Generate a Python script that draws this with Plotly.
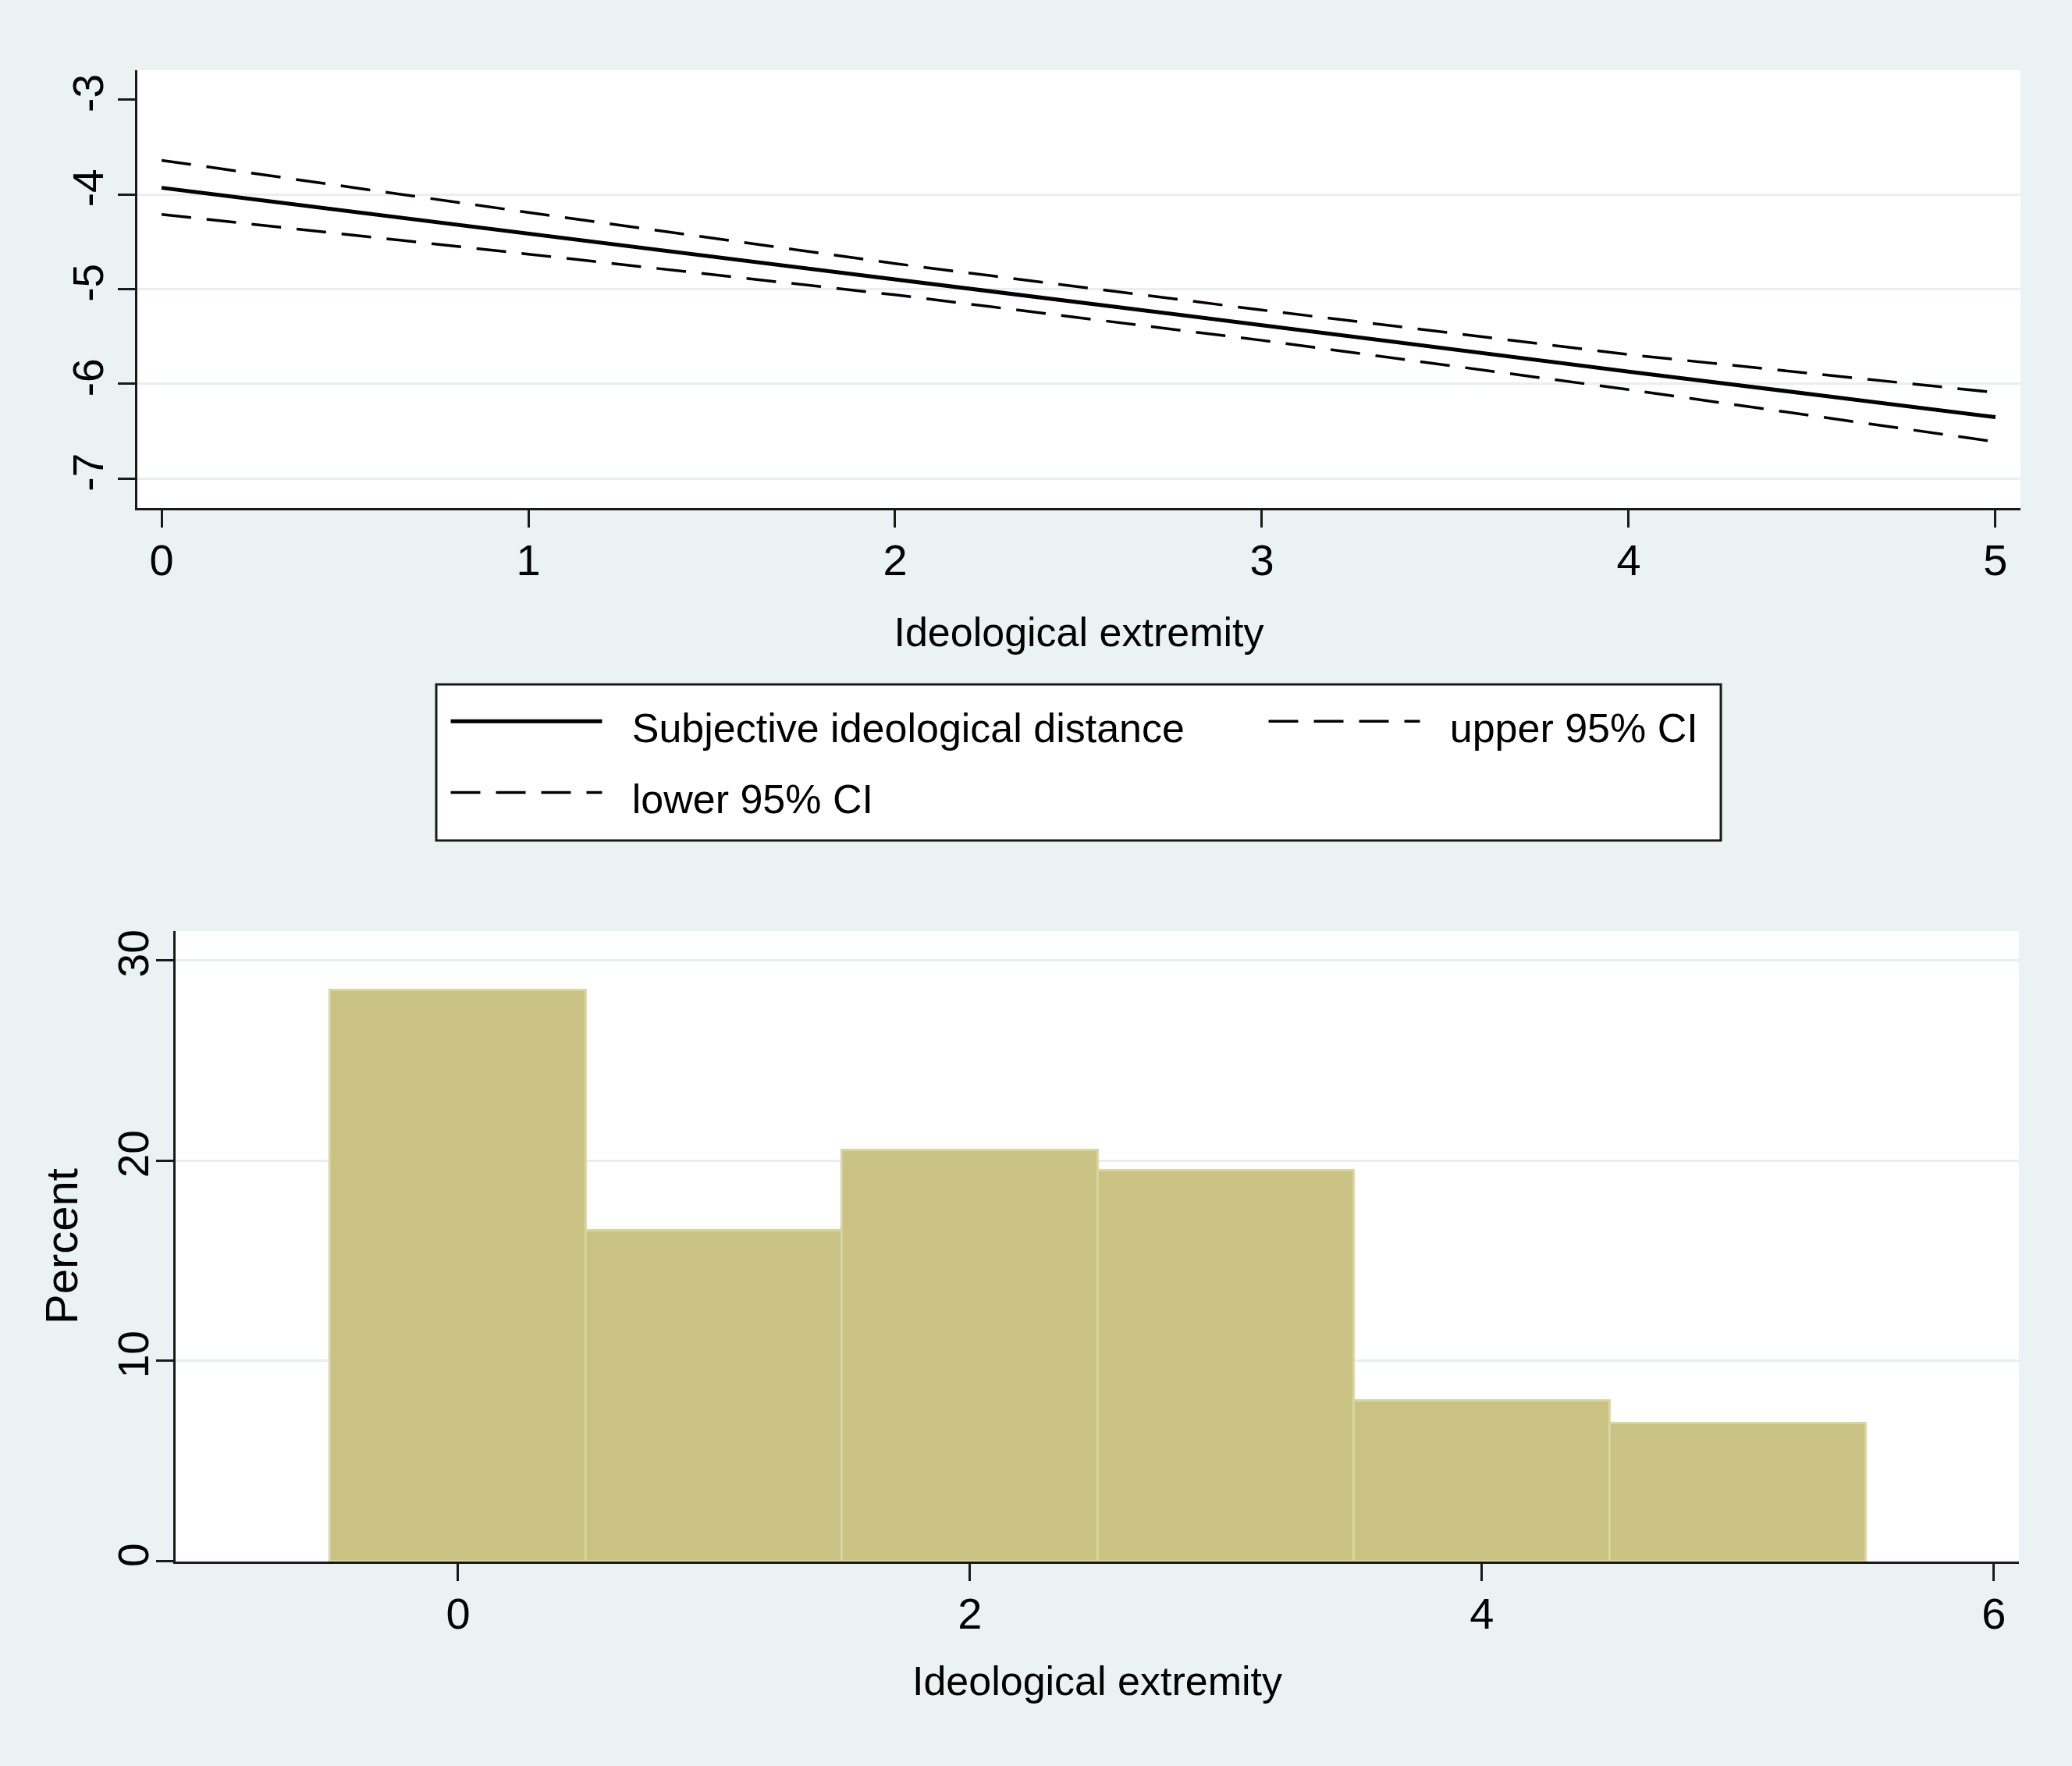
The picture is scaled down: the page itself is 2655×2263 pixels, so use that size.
import plotly.graph_objects as go

# ---- data ----
extremity = [0, 1, 2, 3, 4, 5]
subjective_distance = [-3.93, -4.41, -4.89, -5.38, -5.87, -6.35]
upper_ci = [-3.64, -4.19, -4.73, -5.22, -5.69, -6.09]
lower_ci = [-4.21, -4.63, -5.06, -5.54, -6.06, -6.61]

hist_bins = [0, 1, 2, 3, 4, 5]
hist_percent = [28.5, 16.5, 20.5, 19.5, 8.0, 6.9]

top_yticks = [-3, -4, -5, -6, -7]
top_xticks = [0, 1, 2, 3, 4, 5]
bot_yticks = [0, 10, 20, 30]
bot_xticks = [0, 2, 4, 6]

series_names = ["Subjective ideological distance", "upper 95% CI", "lower 95% CI"]

FONT = "Liberation Sans, Arial, sans-serif"
BG = "#EAF2F3"
GRID = "#E6EFF1"
DASH = "38px,20px"
W, H = 2655, 2263


def legend_label(s):
    return '<span style="font-size:52px">\u00a0\u00a0\u200a' + s + '</span>'


fig = go.Figure()
fig.add_trace(go.Scatter(x=extremity, y=subjective_distance, mode="lines",
                         name=legend_label(series_names[0]),
                         line=dict(color="black", width=5), xaxis="x", yaxis="y"))
fig.add_trace(go.Scatter(x=extremity, y=upper_ci, mode="lines", name=legend_label(series_names[1]),
                         line=dict(color="black", width=3.5, dash=DASH), xaxis="x", yaxis="y"))
fig.add_trace(go.Scatter(x=extremity, y=lower_ci, mode="lines", name=legend_label(series_names[2]),
                         line=dict(color="black", width=3.5, dash=DASH), xaxis="x", yaxis="y"))
fig.add_trace(go.Bar(x=hist_bins, y=hist_percent, width=1, showlegend=False,
                     marker=dict(color="#C9C282", line=dict(color="#D9D5A0", width=3)),
                     xaxis="x2", yaxis="y2"))

axis_common = dict(showline=True, linecolor="#1a1a1a", linewidth=3, ticks="outside",
                   ticklen=22, tickwidth=3, tickcolor="#1a1a1a", zeroline=False)

fig.update_layout(
    width=W, height=H,
    margin=dict(l=0, r=0, t=0, b=0, autoexpand=False),
    paper_bgcolor=BG, plot_bgcolor="white",
    font=dict(family=FONT, size=56, color="black"),
    xaxis=dict(domain=[0.0663, 0.9751], range=[-0.066, 5.068], tickvals=top_xticks,
               showgrid=False, anchor="y", ticklabelstandoff=-6,
               tickfont=dict(family=FONT, size=56),
               title=dict(text="Ideological extremity", font=dict(family=FONT, size=52), standoff=44),
               **axis_common),
    yaxis=dict(domain=[0.7123, 0.9602], range=[-7.31, -2.69], tickvals=top_yticks,
               ticktext=[str(v) for v in top_yticks],
               tickangle=-90, showgrid=False, anchor="x", ticklabelstandoff=-3,
               tickfont=dict(family=FONT, size=55),
               minor=dict(tickvals=[-4, -5, -6, -7], showgrid=True, gridcolor=GRID, gridwidth=3, ticks=""),
               **axis_common),
    xaxis2=dict(domain=[0.0847, 0.9744], range=[-1.104, 6.098], tickvals=bot_xticks,
                showgrid=False, anchor="y2", ticklabelstandoff=-6,
                tickfont=dict(family=FONT, size=56),
                title=dict(text="Ideological extremity", font=dict(family=FONT, size=52), standoff=38),
                **axis_common),
    yaxis2=dict(domain=[0.1158, 0.4728], range=[0, 31.44], tickvals=bot_yticks,
                tickangle=-90, showgrid=False, anchor="x2", ticklabelstandoff=-12,
                tickfont=dict(family=FONT, size=55),
                minor=dict(tickvals=[10, 20, 30], showgrid=True, gridcolor=GRID, gridwidth=3, ticks=""),
                title=dict(text="Percent", font=dict(family=FONT, size=58), standoff=22),
                **axis_common),
    legend=dict(orientation="h", x=572.5 / W, y=0.614, xanchor="left", yanchor="top",
                bgcolor="rgba(0,0,0,0)", borderwidth=0,
                font=dict(family=FONT, size=68), itemwidth=194, entrywidth=839,
                traceorder="normal"),
    shapes=[dict(type="rect", xref="paper", yref="paper",
                 x0=559 / W, x1=2205 / W, y0=1 - 1077 / H, y1=1 - 877 / H,
                 fillcolor="white", line=dict(color="#1a1a1a", width=3), layer="above")],
    bargap=0,
)

fig.write_html("out.html")
